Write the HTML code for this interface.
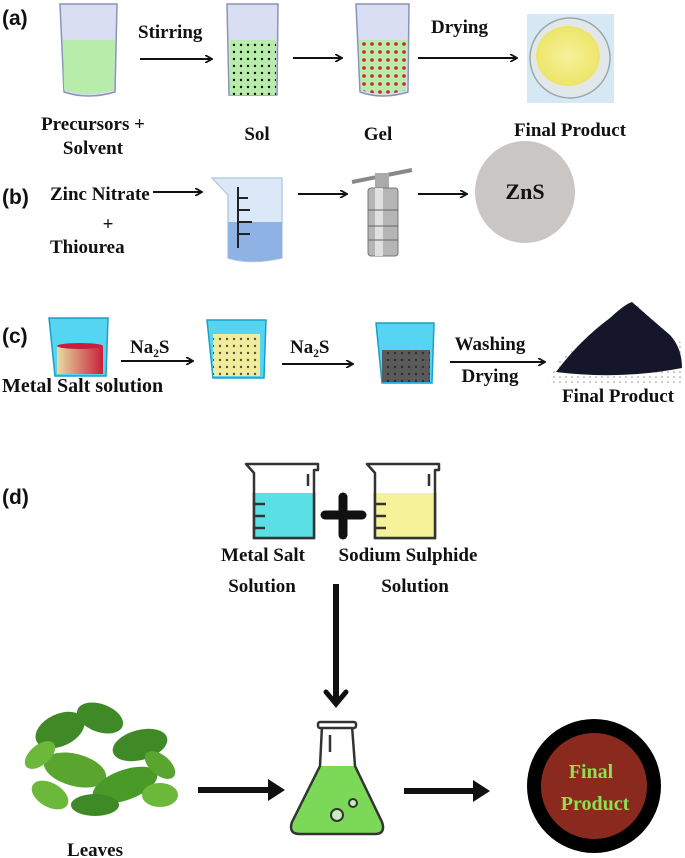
<!DOCTYPE html>
<html><head><meta charset="utf-8"><style>
body{margin:0;background:#fff}
svg{display:block}
.s{font-family:"Liberation Serif",serif;font-weight:bold;fill:#111}
.h{font-family:"Liberation Sans",sans-serif;font-weight:bold;fill:#111;font-size:21px}
</style></head><body>
<svg width="685" height="858" viewBox="0 0 685 858" xmlns="http://www.w3.org/2000/svg">
<defs>
<marker id="a" markerWidth="8" markerHeight="8" refX="6" refY="4" orient="auto" markerUnits="userSpaceOnUse"><path d="M0,0 L7,4 L0,8" fill="none" stroke="#111" stroke-width="1.8"/></marker>
<linearGradient id="rg" x1="0" x2="1"><stop offset="0" stop-color="#e6dca0"/><stop offset="1" stop-color="#c8203a"/></linearGradient>
<pattern id="dk" width="7" height="7" patternUnits="userSpaceOnUse"><circle cx="3" cy="3" r="1.2" fill="#111"/></pattern>
<pattern id="rd" width="8" height="8" patternUnits="userSpaceOnUse"><circle cx="4" cy="4" r="1.8" fill="#d0202a"/></pattern>
<pattern id="sp" width="6" height="5" patternUnits="userSpaceOnUse"><circle cx="2" cy="2" r="0.8" fill="#222"/></pattern>
<radialGradient id="pw" cx="0.5" cy="0.5" r="0.5"><stop offset="0" stop-color="#f6f29a"/><stop offset="1" stop-color="#ece56a"/></radialGradient>
</defs>

<!-- (a) -->
<text x="2" y="25" class="h">(a)</text>
<g>
<path d="M60,4 L117,4 L115,92 Q88,100 64,92 Z" fill="#d9def2" stroke="#8a93b8" stroke-width="1.5"/>
<path d="M63,40 L115,40 L114,90 Q88,98 64,90 Z" fill="#b7ecaa"/>
</g>
<text x="138" y="38" class="s" font-size="19">Stirring</text>
<line x1="140" y1="59" x2="211" y2="59" stroke="#111" stroke-width="2" marker-end="url(#a)"/>
<g>
<path d="M227,4 L278,4 L277,95 L229,95 Z" fill="#d9def2" stroke="#8a93b8" stroke-width="1.5"/>
<rect x="230" y="40" width="46" height="55" fill="#b7ecaa"/>
<rect x="230" y="40" width="46" height="55" fill="url(#dk)"/>
</g>
<line x1="293" y1="58" x2="341" y2="58" stroke="#111" stroke-width="2" marker-end="url(#a)"/>
<g>
<path d="M356,4 L409,4 L408,92 Q382,100 360,92 Z" fill="#d9def2" stroke="#8a93b8" stroke-width="1.5"/>
<path d="M359,40 L407,40 L406,90 Q382,98 361,90 Z" fill="#b7ecaa"/>
<path d="M359,40 L407,40 L406,90 Q382,98 361,90 Z" fill="url(#rd)"/>
</g>
<text x="431" y="33" class="s" font-size="19">Drying</text>
<line x1="418" y1="58" x2="516" y2="58" stroke="#111" stroke-width="2" marker-end="url(#a)"/>
<rect x="527" y="14" width="87" height="89" fill="#d6e8f4"/>
<circle cx="570" cy="58" r="40" fill="#e2e8ea" stroke="#9aa8ad" stroke-width="1.5"/>
<ellipse cx="568" cy="56" rx="32" ry="30" fill="url(#pw)"/>
<text x="93" y="130" class="s" font-size="19" text-anchor="middle">Precursors +</text>
<text x="93" y="154" class="s" font-size="19" text-anchor="middle">Solvent</text>
<text x="257" y="140" class="s" font-size="19" text-anchor="middle">Sol</text>
<text x="378" y="140" class="s" font-size="19" text-anchor="middle">Gel</text>
<text x="570" y="136" class="s" font-size="19" text-anchor="middle">Final Product</text>

<!-- (b) -->
<text x="2" y="204" class="h">(b)</text>
<text x="50" y="200" class="s" font-size="19">Zinc Nitrate</text>
<text x="108" y="230" class="s" font-size="19" text-anchor="middle">+</text>
<text x="50" y="253" class="s" font-size="19">Thiourea</text>
<line x1="153" y1="192" x2="201" y2="192" stroke="#111" stroke-width="2" marker-end="url(#a)"/>
<g>
<path d="M212,178 L282,178 L282,258 Q250,265 228,258 L228,195 Z" fill="#dbe8f7" stroke="#b8cde4" stroke-width="1.5"/>
<path d="M228,222 L282,222 L282,258 Q250,265 228,258 Z" fill="#8fb2e4"/>
<line x1="238" y1="187" x2="238" y2="248" stroke="#222" stroke-width="2"/>
<g stroke="#222" stroke-width="2"><line x1="238" y1="198" x2="248" y2="198"/><line x1="238" y1="210" x2="250" y2="210"/><line x1="238" y1="222" x2="252" y2="222"/><line x1="238" y1="234" x2="250" y2="234"/></g>
</g>
<line x1="298" y1="194" x2="346" y2="194" stroke="#111" stroke-width="2" marker-end="url(#a)"/>
<g>
<line x1="352" y1="182" x2="412" y2="170" stroke="#888" stroke-width="4"/>
<rect x="375" y="173" width="14" height="16" fill="#aaa"/>
<rect x="368" y="188" width="30" height="68" rx="3" fill="#b5b5b5" stroke="#777"/>
<rect x="375" y="188" width="8" height="68" fill="#e0e0e0"/>
<g stroke="#666"><line x1="368" y1="210" x2="398" y2="210"/><line x1="368" y1="226" x2="398" y2="226"/><line x1="368" y1="240" x2="398" y2="240"/></g>
</g>
<line x1="418" y1="194" x2="466" y2="194" stroke="#111" stroke-width="2" marker-end="url(#a)"/>
<ellipse cx="525" cy="192" rx="50" ry="51" fill="#c9c6c3"/>
<text x="525" y="199" class="s" font-size="22" text-anchor="middle">ZnS</text>

<!-- (c) -->
<text x="2" y="343" class="h">(c)</text>
<g>
<path d="M49,318 L108,318 L106,376 L55,376 Z" fill="#55d5f2" stroke="#1aa0c8" stroke-width="1.5"/>
<rect x="57" y="346" width="46" height="28" fill="url(#rg)"/>
<ellipse cx="80" cy="346" rx="23" ry="3" fill="#c81c40"/>
</g>
<text x="130" y="353" class="s" font-size="19">Na₂S</text>
<line x1="121" y1="361" x2="192" y2="361" stroke="#111" stroke-width="2" marker-end="url(#a)"/>
<g>
<path d="M207,320 L266,320 L264,378 L213,378 Z" fill="#55d5f2" stroke="#1aa0c8" stroke-width="1.5"/>
<rect x="213" y="334" width="47" height="42" fill="#f0ec9c"/>
<rect x="213" y="334" width="47" height="42" fill="url(#dk)" opacity="0.7"/>
</g>
<text x="290" y="353" class="s" font-size="19">Na₂S</text>
<line x1="282" y1="364" x2="352" y2="364" stroke="#111" stroke-width="2" marker-end="url(#a)"/>
<g>
<path d="M376,323 L434,323 L432,383 L382,383 Z" fill="#55d5f2" stroke="#1aa0c8" stroke-width="1.5"/>
<rect x="382" y="350" width="48" height="32" fill="#5a5a5a"/>
<rect x="382" y="350" width="48" height="32" fill="url(#dk)" opacity="0.6"/>
</g>
<text x="490" y="350" class="s" font-size="19" text-anchor="middle">Washing</text>
<line x1="450" y1="362" x2="544" y2="362" stroke="#111" stroke-width="2" marker-end="url(#a)"/>
<text x="490" y="382" class="s" font-size="19" text-anchor="middle">Drying</text>
<path d="M548,384 L685,384 L685,345 Q660,330 640,308 Q632,300 625,306 Q600,325 575,345 Q555,362 548,384 Z" fill="url(#sp)" opacity="0.5"/>
<path d="M556,372 Q580,340 610,318 Q625,304 632,302 Q650,318 670,335 Q682,348 682,368 Q620,380 556,372 Z" fill="#15162a"/>
<text x="2" y="392" class="s" font-size="20">Metal Salt solution</text>
<text x="618" y="402" class="s" font-size="19" text-anchor="middle">Final Product</text>

<!-- (d) -->
<text x="2" y="504" class="h">(d)</text>
<g>
<path d="M246,464 L318,464 L318,470 L314,470 L314,538 L254,538 L254,473 Z" fill="#fff" stroke="#333" stroke-width="2.5" stroke-linejoin="round"/>
<rect x="255" y="493" width="58" height="44" fill="#5be0e6"/>
<path d="M254,493 L254,538 L314,538 L314,493" fill="none" stroke="#333" stroke-width="2.5"/>
<g stroke="#333" stroke-width="2.5"><line x1="254" y1="504" x2="265" y2="504"/><line x1="254" y1="516" x2="265" y2="516"/><line x1="254" y1="528" x2="265" y2="528"/><line x1="308" y1="474" x2="308" y2="486"/></g>
</g>
<g stroke="#111" stroke-width="9" stroke-linecap="round"><line x1="325" y1="515" x2="362" y2="515"/><line x1="343" y1="497" x2="343" y2="535"/></g>
<g>
<path d="M367,464 L439,464 L439,470 L435,470 L435,538 L375,538 L375,473 Z" fill="#fff" stroke="#333" stroke-width="2.5" stroke-linejoin="round"/>
<rect x="376" y="493" width="58" height="44" fill="#f5f29a"/>
<path d="M375,493 L375,538 L435,538 L435,493" fill="none" stroke="#333" stroke-width="2.5"/>
<g stroke="#333" stroke-width="2.5"><line x1="375" y1="504" x2="386" y2="504"/><line x1="375" y1="516" x2="386" y2="516"/><line x1="375" y1="528" x2="386" y2="528"/><line x1="429" y1="474" x2="429" y2="486"/></g>
</g>
<text x="263" y="561" class="s" font-size="19" text-anchor="middle">Metal Salt</text>
<text x="262" y="592" class="s" font-size="19" text-anchor="middle">Solution</text>
<text x="408" y="561" class="s" font-size="19" text-anchor="middle">Sodium Sulphide</text>
<text x="415" y="592" class="s" font-size="19" text-anchor="middle">Solution</text>
<line x1="336" y1="584" x2="336" y2="702" stroke="#111" stroke-width="6"/>
<path d="M326,692 L336,704 L346,692" fill="none" stroke="#111" stroke-width="5" stroke-linecap="round"/>
<!-- flask -->
<g>
<path d="M320,766 L292,822 Q288,834 300,834 L375,834 Q386,834 382,822 L355,766 Z" fill="#7cd957"/>
<path d="M322,726 L320,766 L292,822 Q288,834 300,834 L375,834 Q386,834 382,822 L355,766 L352,726" fill="none" stroke="#333" stroke-width="2.5" stroke-linejoin="round"/>
<rect x="318" y="722" width="38" height="6" rx="2" fill="#fff" stroke="#333" stroke-width="2.5"/>
<line x1="330" y1="735" x2="330" y2="752" stroke="#333" stroke-width="2.5"/>
<circle cx="337" cy="815" r="6" fill="#c8ecc0" stroke="#333" stroke-width="2"/>
<circle cx="353" cy="803" r="4" fill="#c8ecc0" stroke="#333" stroke-width="2"/>
</g>
<!-- leaves -->
<g fill="#3f8a26">
<ellipse cx="60" cy="730" rx="26" ry="16" transform="rotate(-25 60 730)"/>
<ellipse cx="100" cy="718" rx="24" ry="14" transform="rotate(20 100 718)"/>
<ellipse cx="140" cy="745" rx="28" ry="15" transform="rotate(-15 140 745)"/>
<ellipse cx="75" cy="770" rx="32" ry="16" fill="#5aa530" transform="rotate(15 75 770)"/>
<ellipse cx="125" cy="785" rx="34" ry="15" fill="#4a9a2a" transform="rotate(-20 125 785)"/>
<ellipse cx="160" cy="795" rx="18" ry="12" fill="#6cb83a"/>
<ellipse cx="50" cy="795" rx="20" ry="12" fill="#6cb83a" transform="rotate(30 50 795)"/>
<ellipse cx="95" cy="805" rx="24" ry="11"/>
<ellipse cx="40" cy="755" rx="18" ry="10" fill="#6cb83a" transform="rotate(-40 40 755)"/>
<ellipse cx="160" cy="765" rx="18" ry="10" fill="#5aa530" transform="rotate(40 160 765)"/>
</g>
<text x="95" y="856" class="s" font-size="19" text-anchor="middle">Leaves</text>
<line x1="198" y1="790" x2="270" y2="790" stroke="#111" stroke-width="6"/>
<path d="M268,779 L285,790 L268,801 Z" fill="#111"/>
<line x1="404" y1="791" x2="475" y2="791" stroke="#111" stroke-width="6"/>
<path d="M473,780 L490,791 L473,802 Z" fill="#111"/>
<circle cx="594" cy="786" r="67" fill="#000"/>
<circle cx="594" cy="786" r="53" fill="#8a2a1e"/>
<text x="591" y="778" class="s" font-size="20" text-anchor="middle" style="fill:#8fe050">Final</text>
<text x="595" y="810" class="s" font-size="20" text-anchor="middle" style="fill:#8fe050">Product</text>
</svg>
</body></html>
